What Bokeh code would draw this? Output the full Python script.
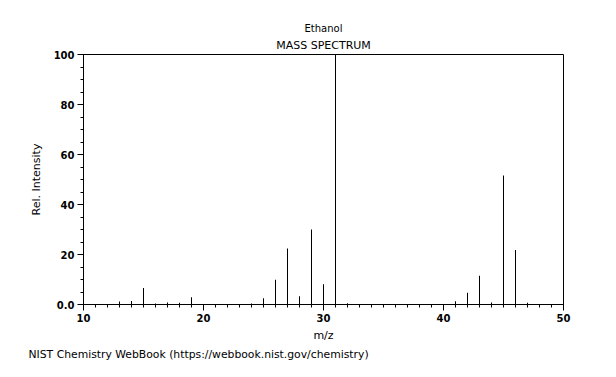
from bokeh.plotting import figure
from bokeh.models import Range1d, FixedTicker, ColumnDataSource, Title
from bokeh.embed import file_html
from bokeh.resources import INLINE

# Data
mz = [13, 14, 15, 16, 17, 18, 19, 24, 25, 26, 27, 28, 29, 30, 31, 32,
      41, 42, 43, 44, 45, 46, 47]
intensity = [1.2, 1.4, 6.6, 0.4, 0.8, 0.7, 2.9, 0.4, 2.5, 9.9, 22.4, 3.3,
             30.0, 8.1, 100.0, 0.5, 1.3, 4.7, 11.5, 0.8, 51.6, 21.8, 0.7]
x_major = [10, 20, 30, 40, 50]
x_minor = list(range(10, 51))
y_major = [0, 20, 40, 60, 80, 100]
y_minor = list(range(0, 101, 5))
y_labels = {0: "0.0", 20: "20", 40: "40", 60: "60", 80: "80", 100: "100"}

title_name = "Ethanol"
title_kind = "MASS SPECTRUM"
footer = "NIST Chemistry WebBook (https://webbook.nist.gov/chemistry)"

FONT = "DejaVu Sans"

p = figure(width=616, height=377, output_backend="svg", toolbar_location=None,
           x_range=Range1d(10, 50), y_range=Range1d(0, 100),
           min_border_left=83, min_border_right=53, min_border_top=54,
           min_border_bottom=73)
p.frame_width = 480
p.frame_height = 250
p.background_fill_color = "white"
p.border_fill_color = "white"
p.outline_line_color = "black"
p.outline_line_width = 1
p.xgrid.visible = False
p.ygrid.visible = False

src = ColumnDataSource(dict(x=mz, y0=[0] * len(mz), y1=intensity))
p.segment(x0="x", y0="y0", x1="x", y1="y1", source=src,
          line_color="black", line_width=1)

for ax in (p.xaxis[0], p.yaxis[0]):
    ax.axis_line_color = "black"
    ax.major_tick_line_color = "black"
    ax.minor_tick_line_color = "black"
    ax.major_tick_out = 6
    ax.major_tick_in = 0
    ax.minor_tick_out = 3
    ax.minor_tick_in = 0
    ax.major_label_text_font = FONT
    ax.major_label_text_font_size = "10px"
    ax.major_label_text_font_style = "bold"
    ax.major_label_text_color = "black"
    ax.axis_label_text_font = FONT
    ax.axis_label_text_font_size = "11px"
    ax.axis_label_text_font_style = "normal"
    ax.axis_label_text_color = "black"

p.xaxis.ticker = FixedTicker(ticks=x_major, minor_ticks=x_minor)
p.yaxis.ticker = FixedTicker(ticks=y_major, minor_ticks=y_minor)
p.yaxis.major_label_overrides = y_labels
p.xaxis.major_label_standoff = 3
p.yaxis.major_label_standoff = 3
p.xaxis.axis_label = "m/z"
p.xaxis.axis_label_standoff = 4
p.yaxis.axis_label = "Rel. Intensity"
p.yaxis.axis_label_standoff = 8

p.title.text = title_name
p.title.align = "center"
p.title.text_font = FONT
p.title.text_font_size = "10px"
p.title.text_font_style = "normal"
p.title.text_color = "black"
p.title.standoff = 2

p.add_layout(Title(text=title_kind, align="center", text_font=FONT,
                   text_font_size="11px", text_font_style="normal",
                   text_color="black", standoff=5), "above")

p.add_layout(Title(text=footer, align="left", offset=-55, text_font=FONT,
                   text_font_size="10.8px", text_font_style="normal",
                   text_color="black", standoff=3), "below")

open("out.html", "w").write(file_html(p, INLINE))
